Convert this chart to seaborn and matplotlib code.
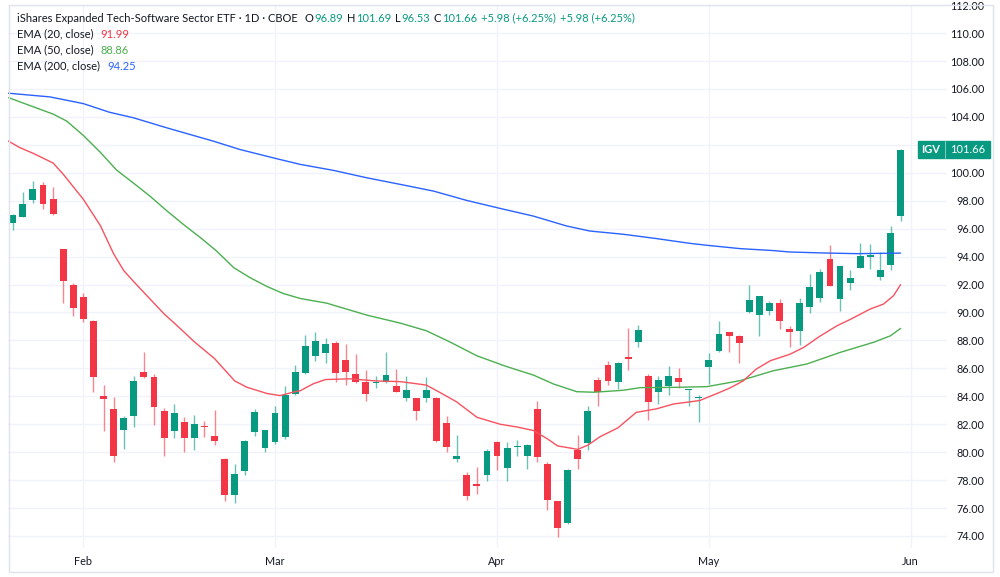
import pandas as pd
import seaborn as sns
import matplotlib.pyplot as plt
import matplotlib.transforms as mtransforms
from matplotlib.patches import Rectangle
import numpy as np

# IGV daily candles, 22 Jan - 29 May 2026
opens = [96.43, 96.86, 98.02, 99.10, 98.14, 94.52, 91.95, 91.14, 89.40, 84.05,
         83.10, 81.60, 82.57, 85.76, 85.36, 82.93, 81.52, 82.14, 81.00, 81.85,
         81.19, 79.52, 76.90, 78.64, 81.43, 80.31, 80.71, 81.07, 84.14, 85.64,
         86.90, 87.07, 87.81, 86.60, 85.60, 85.00, 84.98, 85.00, 84.71, 83.86,
         83.86, 83.86, 83.90, 82.10, 79.52, 78.40, 77.69, 78.40, 80.71, 78.88,
         80.40, 79.76, 83.12, 79.17, 76.50, 74.95, 80.14, 80.67, 85.17, 86.26,
         85.05, 86.79, 87.86, 85.43, 84.33, 84.71, 85.29, 84.45, 83.90, 86.12,
         87.21, 88.57, 88.29, 90.00, 89.83, 90.12, 90.71, 88.81, 88.69, 90.36,
         91.07, 93.81, 90.95, 92.10, 93.21, 94.00, 92.55, 93.40, 96.89]
highs = [97.02, 98.62, 99.38, 99.33, 99.00, 94.55, 92.14, 91.38, 89.45, 84.81,
         83.93, 82.57, 85.48, 87.14, 85.60, 83.17, 83.45, 82.50, 82.69, 82.26,
         83.05, 79.55, 79.17, 80.90, 83.10, 81.62, 83.33, 84.71, 86.24, 88.38,
         88.62, 88.14, 87.98, 87.74, 87.02, 85.88, 85.43, 87.14, 85.95, 85.43,
         83.90, 85.36, 83.98, 82.57, 81.26, 78.57, 78.95, 80.24, 80.83, 80.71,
         80.90, 80.62, 83.69, 79.29, 76.52, 78.81, 81.26, 83.29, 85.36, 86.55,
         86.43, 88.88, 89.10, 85.60, 85.43, 86.14, 86.02, 84.52, 84.10, 87.10,
         89.36, 88.60, 88.40, 92.00, 91.20, 90.83, 90.95, 89.05, 91.07, 92.74,
         93.10, 94.81, 93.33, 93.02, 94.95, 94.93, 94.33, 96.19, 101.69]
lows = [95.88, 96.80, 97.86, 97.43, 97.00, 90.71, 89.76, 89.33, 84.33, 81.55,
        79.29, 80.24, 81.83, 85.33, 81.95, 79.76, 81.00, 80.00, 80.17, 81.07,
        80.48, 76.48, 76.36, 78.33, 81.19, 80.00, 80.60, 80.95, 84.10, 85.60,
        86.52, 86.38, 85.00, 84.83, 84.98, 83.69, 84.57, 84.95, 84.30, 83.69,
        82.33, 83.57, 80.71, 80.00, 79.29, 76.57, 76.98, 77.93, 78.71, 77.93,
        79.76, 78.81, 79.29, 75.86, 73.95, 74.83, 78.81, 80.14, 83.29, 84.81,
        84.52, 85.90, 87.55, 82.33, 83.45, 84.12, 84.62, 83.29, 82.19, 84.88,
        87.14, 87.14, 86.38, 89.98, 88.33, 89.81, 88.81, 87.55, 87.70, 89.93,
        90.76, 91.88, 90.07, 91.60, 93.21, 93.10, 92.31, 93.02, 96.53]
closes = [96.95, 97.76, 98.86, 97.79, 97.07, 92.26, 90.33, 89.52, 85.40, 83.81,
          79.71, 82.48, 85.10, 85.36, 83.26, 81.00, 82.79, 81.00, 82.02, 81.80,
          80.79, 76.95, 78.43, 80.83, 82.90, 81.62, 82.79, 84.12, 85.71, 87.62,
          87.95, 87.74, 85.67, 85.71, 85.00, 84.19, 85.05, 85.52, 84.33, 84.48,
          82.98, 84.48, 80.81, 80.40, 79.71, 76.86, 77.57, 80.07, 79.76, 80.31,
          80.45, 80.48, 79.67, 76.57, 74.60, 78.71, 79.48, 82.93, 84.33, 85.12,
          86.36, 86.67, 88.76, 83.62, 85.19, 85.43, 85.00, 84.50, 83.93, 86.62,
          88.45, 88.29, 87.81, 90.86, 91.19, 90.71, 89.40, 88.62, 90.67, 91.79,
          92.93, 91.90, 93.33, 92.50, 94.05, 94.12, 93.05, 95.68, 101.66]

# moving averages, sampled along the drawn lines (x = candle number)
ema20_idx = [-0.5, 0.7, 2, 4, 5, 7, 8.7, 10, 11, 12, 13.3, 15, 16.3, 18, 20, 22, 23.2,
             25.2, 26.5, 27.8, 28.5, 29.8, 31, 33.4, 36, 38.4, 40, 41, 42.4, 44, 46,
             48.3, 50, 51.6, 53, 54, 56, 57, 58.2, 60, 61.8, 63.8, 65.5, 67.1, 68.1,
             69.8, 71.1, 72.4, 73.7, 75.1, 77, 78.4, 80, 81.7, 83, 85, 86.3, 87.3, 88]
ema20_val = [102.3, 101.8, 101.4, 100.7, 99.9, 98.1, 96.2, 94.2, 93.0, 92.2, 91.2,
             89.9, 89.05, 87.9, 86.7, 85.1, 84.65, 84.2, 84.05, 84.3, 84.4, 84.9, 85.2,
             85.25, 85.1, 85.05, 84.9, 84.8, 84.25, 83.6, 82.5, 82.0, 81.8, 81.55,
             80.95, 80.45, 80.2, 80.5, 81.1, 81.75, 82.85, 83.1, 83.45, 83.6, 83.7,
             84.2, 84.6, 85.1, 85.95, 86.55, 87.0, 87.5, 88.3, 89.05, 89.5, 90.25,
             90.6, 91.2, 91.99]
ema50_idx = [-0.5, 4, 5.35, 7, 8.66, 10.3, 12, 13.6, 15.3, 16.9, 18.6, 20.2, 21.9,
             23.5, 25.2, 26.8, 28.5, 31.1, 35.1, 38.4, 41, 43.3, 46, 48.9, 51.6, 53.6,
             55.9, 57.6, 60.5, 62.2, 65.5, 68.8, 72.1, 75.4, 78.7, 82, 85.3, 87, 88]
ema50_val = [105.4, 104.2, 103.7, 102.67, 101.48, 100.19, 99.24, 98.33, 97.26, 96.31,
             95.36, 94.4, 93.21, 92.5, 91.86, 91.36, 91.0, 90.67, 89.81, 89.24, 88.69,
             87.9, 86.9, 86.14, 85.52, 84.88, 84.33, 84.29, 84.43, 84.62, 84.64, 84.69,
             85.12, 85.83, 86.31, 87.14, 87.86, 88.33, 88.86]
ema200_idx = [-0.5, 3.7, 7, 9.6, 12, 15.3, 19.9, 22.5, 26.2, 28.5, 31.8, 35.1, 38.4,
              41.7, 45, 48.3, 51.6, 54.9, 57.2, 60.5, 63.8, 67.1, 68.8, 72.1, 75.4, 77,
              80.3, 83.7, 88]
ema200_val = [105.7, 105.43, 104.95, 104.33, 103.93, 103.21, 102.26, 101.67, 101.0,
              100.6, 100.17, 99.64, 99.17, 98.69, 98.02, 97.45, 96.9, 96.19, 95.83,
              95.6, 95.29, 94.95, 94.81, 94.57, 94.43, 94.33, 94.26, 94.21, 94.25]

holidays = ['2026-02-16', '2026-04-03', '2026-05-25']
price_ticks = list(range(74, 114, 2))

UP = '#089981'
DOWN = '#F23645'
TXT = '#131722'
GRID = '#f0f3fa'
EMA20_C = '#F7525F'
EMA50_C = '#4CAF50'
EMA200_C = '#2962FF'

sns.set_theme(style='white')
plt.rcParams['font.family'] = ['Lato', 'DejaVu Sans']

days = pd.bdate_range('2026-01-22', '2026-06-01', freq='C', holidays=holidays)
df = pd.DataFrame({'open': opens, 'high': highs, 'low': lows, 'close': closes})
df['x'] = np.arange(len(df))
df['up'] = df['close'] >= df['open']
df['col'] = np.where(df['up'], UP, DOWN)
df['bottom'] = df[['open', 'close']].min(axis=1)
df['height'] = (df['close'] - df['open']).abs().clip(lower=0.07)

# first trading day of each month -> axis ticks
month_pos = [i for i in range(1, len(days)) if days[i].month != days[i - 1].month]
month_lab = [days[i].strftime('%b') for i in month_pos]

fig = plt.figure(figsize=(10, 5.77), dpi=100)
ax = fig.add_axes([8 / 1000, 1 - 548 / 577, 939 / 1000, 543 / 577])

# candles
ax.vlines(df['x'], df['low'], df['high'], colors=df['col'], lw=1, alpha=0.6, zorder=2)
ax.bar(df['x'], df['height'], bottom=df['bottom'], width=0.68, color=df['col'],
       lw=0, zorder=2)

# EMAs
sns.lineplot(x=ema200_idx, y=ema200_val, color=EMA200_C, lw=1, ax=ax, zorder=3)
sns.lineplot(x=ema50_idx, y=ema50_val, color=EMA50_C, lw=1, ax=ax, zorder=3)
sns.lineplot(x=ema20_idx, y=ema20_val, color=EMA20_C, lw=1, ax=ax, zorder=3)

last = closes[-1]

ax.set_xlim(-0.47, 92.6)
ax.set_ylim(73.14, 112.01)
ax.set_xticks(month_pos)
ax.set_xticklabels(month_lab)
ax.set_yticks(price_ticks)
# the scale label under the last-price tag is hidden by it
ax.set_yticklabels(['' if abs(v - last) < 1 else f'{v:.2f}' for v in price_ticks])
ax.yaxis.tick_right()
for lbl in ax.get_yticklabels():
    lbl.set_ha('right')
ax.tick_params(axis='y', length=0, pad=27, labelsize=7.8, labelcolor=TXT)
ax.tick_params(axis='x', length=0, pad=6, labelsize=7.8, labelcolor=TXT)
ax.grid(True, color=GRID, lw=1)
ax.set_axisbelow(True)
for s in ax.spines.values():
    s.set_visible(False)
ax.set_xlabel('')
ax.set_ylabel('')

# last price tag on the scale
blend = mtransforms.blended_transform_factory(fig.transFigure, ax.transData)
ax.add_patch(Rectangle((918 / 1000, last - 0.58), 72 / 1000, 1.16, transform=blend,
                       color=UP, clip_on=False, zorder=10))
ax.plot([945 / 1000, 945 / 1000], [last - 0.58, last + 0.58], transform=blend,
        color='white', lw=0.6, alpha=0.6, clip_on=False, zorder=11)
ax.text(931 / 1000, last, 'IGV', transform=blend, color='white', fontsize=8,
        fontweight='bold', ha='center', va='center', zorder=12, clip_on=False)
ax.text(968 / 1000, last, f'{last:.2f}', transform=blend, color='white', fontsize=8,
        ha='center', va='center', zorder=12, clip_on=False)

# header / legend text
chg = closes[-1] - closes[-2]
pct = chg / closes[-2] * 100
chg_txt = f'{chg:+.2f} ({pct:+.2f}%)'
rows = [
    (18, [('iShares Expanded Tech-Software Sector ETF · 1D · CBOE', TXT, 0),
          ('O', TXT, 5), (f'{opens[-1]:.2f}', UP, 0.3),
          ('H', TXT, 3), (f'{highs[-1]:.2f}', UP, 0.3),
          ('L', TXT, 3), (f'{lows[-1]:.2f}', UP, 0.3),
          ('C', TXT, 3), (f'{closes[-1]:.2f}', UP, 0.3),
          (chg_txt, UP, 3), (chg_txt, UP, 3)]),
    (34, [('EMA (20, close)', TXT, 0), (f'{ema20_val[-1]:.2f}', DOWN, 5)]),
    (50, [('EMA (50, close)', TXT, 0), (f'{ema50_val[-1]:.2f}', EMA50_C, 5)]),
    (66, [('EMA (200, close)', TXT, 0), (f'{ema200_val[-1]:.2f}', EMA200_C, 5)]),
]
for ypix, pieces in rows:
    prev = None
    for txt, col, gap in pieces:
        if prev is None:
            prev = fig.text(17 / 1000, 1 - ypix / 577, txt, color=col, fontsize=8.0,
                            ha='left', va='center')
        else:
            prev = ax.annotate(txt, xy=(1, 0.5), xycoords=prev, xytext=(gap, 0),
                               textcoords='offset points', color=col, fontsize=8.0,
                               ha='left', va='center', annotation_clip=False)

# outer frame
fig.patches.append(Rectangle((9 / 1000, 1 - 572 / 577), 984 / 1000, 567 / 577,
                             transform=fig.transFigure, fill=False, ec='#e0e3eb', lw=1))

plt.savefig('out.png', dpi=100)
plt.close()
